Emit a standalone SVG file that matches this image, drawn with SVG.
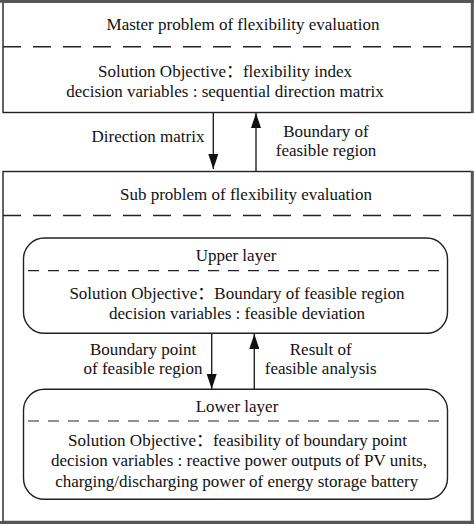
<svg xmlns="http://www.w3.org/2000/svg" width="474" height="524" viewBox="0 0 474 524">
<defs>
<style>
.box{fill:none;stroke:#222;stroke-width:1.4}
.frame{fill:none;stroke:#555;stroke-width:3}
.dash-l{stroke:#222;stroke-width:1.4;stroke-dasharray:18 12;fill:none}
.dash-s{stroke:#222;stroke-width:1.2;stroke-dasharray:11 9;fill:none}
.t{font-family:"Liberation Serif","Times New Roman","Noto Sans CJK SC",serif;font-size:17px;fill:#111;text-anchor:middle}
.conn{stroke:#222;stroke-width:1.4;fill:none;marker-end:url(#ah)}
</style>
<marker id="ah" markerUnits="userSpaceOnUse" markerWidth="15" markerHeight="10" refX="15" refY="5" orient="auto">
<path d="M0,0 L15,5 L0,10 z" fill="#111"/>
</marker>
</defs>
<rect width="474" height="524" fill="#fff"/>
<g id="master">
<rect class="box" x="3" y="2" width="469" height="110.5"/>
<line class="frame" x1="0" y1="1.3" x2="474" y2="1.3"/>
<line class="frame" x1="472.3" y1="0" x2="472.3" y2="113"/>
<line class="dash-l" x1="3" y1="46.7" x2="471" y2="46.7"/>
<text class="t" x="243" y="30">Master problem of flexibility evaluation</text>
<text class="t" x="225" y="77.3">Solution Objective：flexibility index</text>
<text class="t" x="225" y="96.7">decision variables : sequential direction matrix</text>
</g>
<g id="sub">
<rect class="box" x="3" y="171.5" width="469" height="350"/>
<line class="frame" x1="472.3" y1="171" x2="472.3" y2="524"/>
<line class="frame" x1="0" y1="522.5" x2="474" y2="522.5"/>
<line class="dash-l" x1="3" y1="215.5" x2="471" y2="215.5"/>
<text class="t" x="246" y="200">Sub problem of flexibility evaluation</text>
</g>
<g id="upper">
<rect class="box" x="23.5" y="238" width="424" height="95.3" rx="21" ry="21"/>
<line class="dash-s" x1="28" y1="270.7" x2="446" y2="270.7"/>
<text class="t" x="236" y="260.7">Upper layer</text>
<text class="t" x="237" y="299">Solution Objective：Boundary of feasible region</text>
<text class="t" x="237" y="318.7">decision variables : feasible deviation</text>
</g>
<g id="lower">
<rect class="box" x="23.5" y="389.3" width="424" height="110" rx="21" ry="21"/>
<line class="dash-s" x1="28" y1="421" x2="446" y2="421"/>
<text class="t" x="237" y="412.3">Lower layer</text>
<text class="t" x="237.5" y="446">Solution Objective：feasibility of boundary point</text>
<text class="t" x="239" y="466.3">decision variables : reactive power outputs of PV units,</text>
<text class="t" x="236.7" y="486.7">charging/discharging power of energy storage battery</text>
</g>
<g id="connectors">
<line class="conn" x1="213.3" y1="112.5" x2="213.3" y2="169"/>
<line class="conn" x1="256" y1="171.5" x2="256" y2="113"/>
<line class="conn" x1="211.7" y1="333.3" x2="211.7" y2="389"/>
<line class="conn" x1="254.3" y1="389.3" x2="254.3" y2="334"/>
<text class="t" x="148" y="141.7">Direction matrix</text>
<text class="t" x="326" y="137.3">Boundary of</text>
<text class="t" x="326" y="156">feasible region</text>
<text class="t" x="143" y="355">Boundary point</text>
<text class="t" x="143" y="374.3">of feasible region</text>
<text class="t" x="320.7" y="355">Result of</text>
<text class="t" x="320.7" y="374.3">feasible analysis</text>
</g>
</svg>
